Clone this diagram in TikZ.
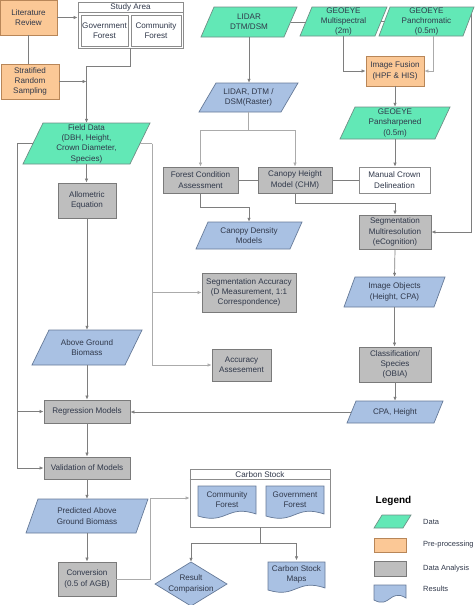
\documentclass[tikz,border=0pt]{standalone}
\usepackage{fontspec}
\setmainfont{Liberation Sans}
\usetikzlibrary{arrows.meta,calc}
\definecolor{datafill}{HTML}{62E8B6}
\definecolor{datadraw}{HTML}{6F8F86}
\definecolor{prefill}{HTML}{FBC896}
\definecolor{predraw}{HTML}{B88658}
\definecolor{anfill}{HTML}{BEBEBE}
\definecolor{andraw}{HTML}{7A7A7A}
\definecolor{resfill}{HTML}{A9C1E3}
\definecolor{resdraw}{HTML}{667A98}
\definecolor{txtcol}{HTML}{30384A}
\definecolor{conncol}{HTML}{7E7E7E}
\definecolor{lightcol}{HTML}{ABABAB}
\definecolor{outercol}{HTML}{8C8C8C}
\tikzset{
  txt/.style={inner sep=0pt, align=center, font=\fontsize{8.1}{10.3}\selectfont, text=txtcol},
  databox/.style={draw=datadraw, fill=datafill, line width=.7pt},
  resbox/.style={draw=resdraw, fill=resfill, line width=.7pt},
  prebox/.style={txt, draw=predraw, fill=prefill, line width=.8pt},
  anbox/.style={txt, draw=andraw, fill=anfill, line width=.8pt},
  whitebox/.style={txt, draw=outercol, fill=white, line width=.7pt},
  outerbox/.style={draw=outercol, fill=white, line width=.7pt, inner sep=0pt},
  conn/.style={draw=conncol, line width=.7pt},
  lightconn/.style={draw=lightcol},
  arr/.style={conn, -{Latex[length=4pt,width=3.4pt]}},
  legtxt/.style={inner sep=0pt, anchor=west, font=\fontsize{7.5}{9}\selectfont, text=txtcol}
}
% parallelogram: name, cx, cy, edge width, height, slant, style, text
\newcommand\parashape[8]{%
  \path[#7] (#2-#4/2+#6/2,#3-#5/2) -- (#2+#4/2+#6/2,#3-#5/2) -- (#2+#4/2-#6/2,#3+#5/2) -- (#2-#4/2-#6/2,#3+#5/2) -- cycle;
  \node[txt, minimum width=#4pt, minimum height=#5pt] (#1) at (#2,#3) {#8};
}
% document shape: name, x1, y1, x2, y2, text
\newcommand\docshp[6]{%
  \path[resbox] (#2,#3) -- (#4,#3) -- (#4,#5-2) .. controls ({0.5*(#2+#4)},#5-12) and ({0.5*(#2+#4)},#5+9) .. (#2,#5) -- cycle;
  \node[txt, minimum width={(#4-#2)*1pt}, minimum height={(#5-#3)*1pt}] (#1) at ({0.5*(#2+#4)},{0.5*(#3+#5)-1.5}) {#6};
}
\begin{document}
\begin{tikzpicture}[x=1pt,y=-1pt]
\useasboundingbox (0,0) rectangle (474,605);

% ---------- left / top-left ----------
\node[prebox, minimum width=57pt, minimum height=35pt] (lr) at (28.5,17.5) {Literature\\Review};
\node[prebox, minimum width=58pt, minimum height=35pt] (sr) at (30,81.5) {Stratified\\Random\\Sampling};

\node[outerbox, minimum width=105pt, minimum height=46pt] (sa) at (130.5,25) {};
\node[txt] (sat) at (130.5,7.5) {Study Area};
\draw[draw=outercol, line width=.7pt] ($(sa.north west)+(0,11)$) -- ($(sa.north east)+(0,11)$);
\node[whitebox, minimum width=47pt, minimum height=31pt] (gf) at (104.5,30.5) {Government\\Forest};
\node[whitebox, minimum width=50pt, minimum height=31pt] (cf) at (156,30.5) {Community\\Forest};

\parashape{fd}{86.5}{143.5}{107}{41}{20}{databox}{Field Data\\(DBH, Height,\\Crown Diameter,\\Species)}
\node[anbox, minimum width=58pt, minimum height=35pt] (al) at (87,200.5) {Allometric\\Equation};
\parashape{agb}{87}{347.5}{93}{35}{17}{resbox}{Above Ground\\Biomass}
\node[anbox, minimum width=86pt, minimum height=23pt] (rm) at (87,411.5) {Regression Models};
\node[anbox, minimum width=86pt, minimum height=22pt] (vm) at (87,468) {Validation of Models};
\parashape{pagb}{87}{516}{110}{34}{12}{resbox}{Predicted Above\\Ground Biomass}
\node[anbox, minimum width=58pt, minimum height=34pt] (conv) at (87,579) {Conversion\\(0.5 of AGB)};

% ---------- top right ----------
\parashape{lidar}{249}{22}{83}{30}{13}{databox}{LIDAR\\DTM/DSM}
\parashape{ms}{343.5}{21.5}{75}{29}{12}{databox}{GEOEYE\\Multispectral\\(2m)}
\parashape{pan}{426.5}{21.5}{84}{29}{11}{databox}{GEOEYE\\Panchromatic\\(0.5m)}
\parashape{ras}{248.5}{97.5}{82}{29}{17}{resbox}{LIDAR, DTM /\\DSM(Raster)}
\node[prebox, minimum width=58pt, minimum height=30pt] (if) at (395,71) {Image Fusion\\(HPF \& HIS)};
\parashape{ps}{395}{123}{95}{32}{15}{databox}{GEOEYE\\Pansharpened\\(0.5m)}

\node[anbox, minimum width=75pt, minimum height=26pt] (fca) at (200.5,180) {Forest Condition\\Assessment};
\node[anbox, minimum width=74pt, minimum height=26pt] (chm) at (295,180) {Canopy Height\\Model (CHM)};
\node[whitebox, minimum width=71pt, minimum height=26pt] (mcd) at (394.5,180) {Manual Crown\\Delineation};
\parashape{cdm}{249}{235.5}{94}{27}{12}{resbox}{Canopy Density\\Models}
\node[anbox, minimum width=72pt, minimum height=34pt] (seg) at (395,232) {Segmentation\\Multiresolution\\(eCognition)};
\parashape{io}{394.5}{292}{90}{30}{11}{resbox}{Image Objects\\(Height, CPA)}
\node[anbox, minimum width=72pt, minimum height=35pt] (cls) at (395,364.5) {Classification/\\Species\\(OBIA)};
\parashape{cpa}{395}{412}{87}{22}{9}{resbox}{CPA, Height}

\node[anbox, minimum width=94pt, minimum height=39pt] (sacc) at (249,292.5) {Segmentation Accuracy\\(D Measurement, 1:1\\Correspondence)};
\node[anbox, minimum width=59pt, minimum height=32pt] (acc) at (241.5,365) {Accuracy\\Assesement};

% ---------- carbon stock ----------
\node[outerbox, minimum width=140pt, minimum height=58pt] (cs) at (260,498) {};
\node[txt] (cst) at (260,474.5) {Carbon Stock};
\draw[draw=outercol, line width=.7pt] ($(cs.north west)+(0,11)$) -- ($(cs.north east)+(0,11)$);
\docshp{csc}{198}{486}{256}{516}{Community\\Forest}
\docshp{csg}{266}{486}{324}{516}{Government\\Forest}

\path[resbox] (155,584) -- (191,562) -- (227,584) -- (191,606) -- cycle;
\node[txt, minimum width=72pt, minimum height=44pt] (rc) at (191,584) {Result\\Comparision};
\docshp{csm}{268}{562}{325}{590}{Carbon Stock\\Maps}

% ---------- legend ----------
\node[inner sep=0pt, font=\fontsize{10}{12}\selectfont\bfseries] (legt) at (393.5,501) {Legend};
\parashape{lgdata}{392.5}{521.5}{29}{13}{8}{databox}{}
\node[legtxt] (lgdatat) at (423,521.5) {Data};
\node[prebox, minimum width=32pt, minimum height=14pt] (lgpre) at (390,545) {};
\node[legtxt] (lgpret) at (423,545) {Pre-processing};
\node[anbox, minimum width=32pt, minimum height=15pt] (lgan) at (390,568.5) {};
\node[legtxt] (lgant) at (423,568.5) {Data Analysis};
\docshp{lgres}{374}{585}{406}{600}{}
\node[legtxt] (lgrest) at (423,589) {Results};

% ---------- connectors ----------
\draw[arr] (lr.east) -- (lr.east -| sa.west);
\draw[conn] (lr.south) -- (lr.south |- sr.north);
\draw[arr] (sa.south) -- ++(0,18) -| (fd.north);
\coordinate (srj) at (sr.east -| fd.north);
\draw[arr] (sr.east) -- (srj);

\coordinate (lbus) at (17,143.5);
\coordinate (rbus) at (152,143.5);
\draw[conn] (fd.west) -- (lbus);
\draw[arr] (lbus) |- (rm.west);
\draw[arr] (lbus) |- (vm.west);
\draw[conn, lightconn] (fd.east) -- (rbus);
\draw[arr, lightconn] (rbus) |- (sacc.west);
\draw[arr, lightconn] (rbus) |- (acc.west);

\draw[arr] (fd.south) -- (fd.south |- al.north);
\draw[arr] (al.south) -- (agb.north);
\draw[arr] (agb.south) -- (rm.north);
\draw[arr] (rm.south) -- (vm.north);
\draw[arr] (vm.south) -- (pagb.north);
\draw[arr] (pagb.south) -- (conv.north);
\draw[arr, lightconn] (conv.east) -- ++(34,0) |- (cs.west);

\coordinate (csj) at (260,543);
\draw[conn] (cs.south) -- (csj);
\draw[arr] (csj) -| (rc.north);
\draw[arr] (csj) -| (csm.north);

\draw[conn] (lidar.east) -- (lidar.east -| ms.west);
\draw[conn] (ms.east) -- (pan.west);
\draw[arr] (lidar.south) -- (lidar.south |- ras.north);
\coordinate (rasj) at (248.5,130);
\draw[conn, lightconn] (ras.south) -- (rasj);
\draw[arr, lightconn] (rasj) -| (fca.north);
\draw[arr, lightconn] (rasj) -| (chm.north);
\draw[conn] (fca.east) -- (chm.west);
\draw[conn] (chm.east) -- (mcd.west);
\draw[arr] (ms.south) |- (if.west);
\coordinate (panb) at (433,36);
\draw[arr, lightconn] (panb) |- (if.east);
\draw[arr] (if.south) -- (ps.north);
\draw[arr] (ps.south) -- (ps.south |- mcd.north);
\draw[arr] (fca.south) -- ++(0,14) -| (cdm.north);
\draw[arr] (chm.south) -- ++(0,10) -| (seg.north);
\coordinate (pane) at (471,14);
\draw[arr] (pane) |- (seg.east);
\draw[arr] (seg.south) -- (io.north);
\draw[arr] (io.south) -- (io.south |- cls.north);
\draw[arr] (cls.south) -- (cpa.north);
\draw[arr] (cpa.west) -- (cpa.west -| rm.east);
\end{tikzpicture}
\end{document}
